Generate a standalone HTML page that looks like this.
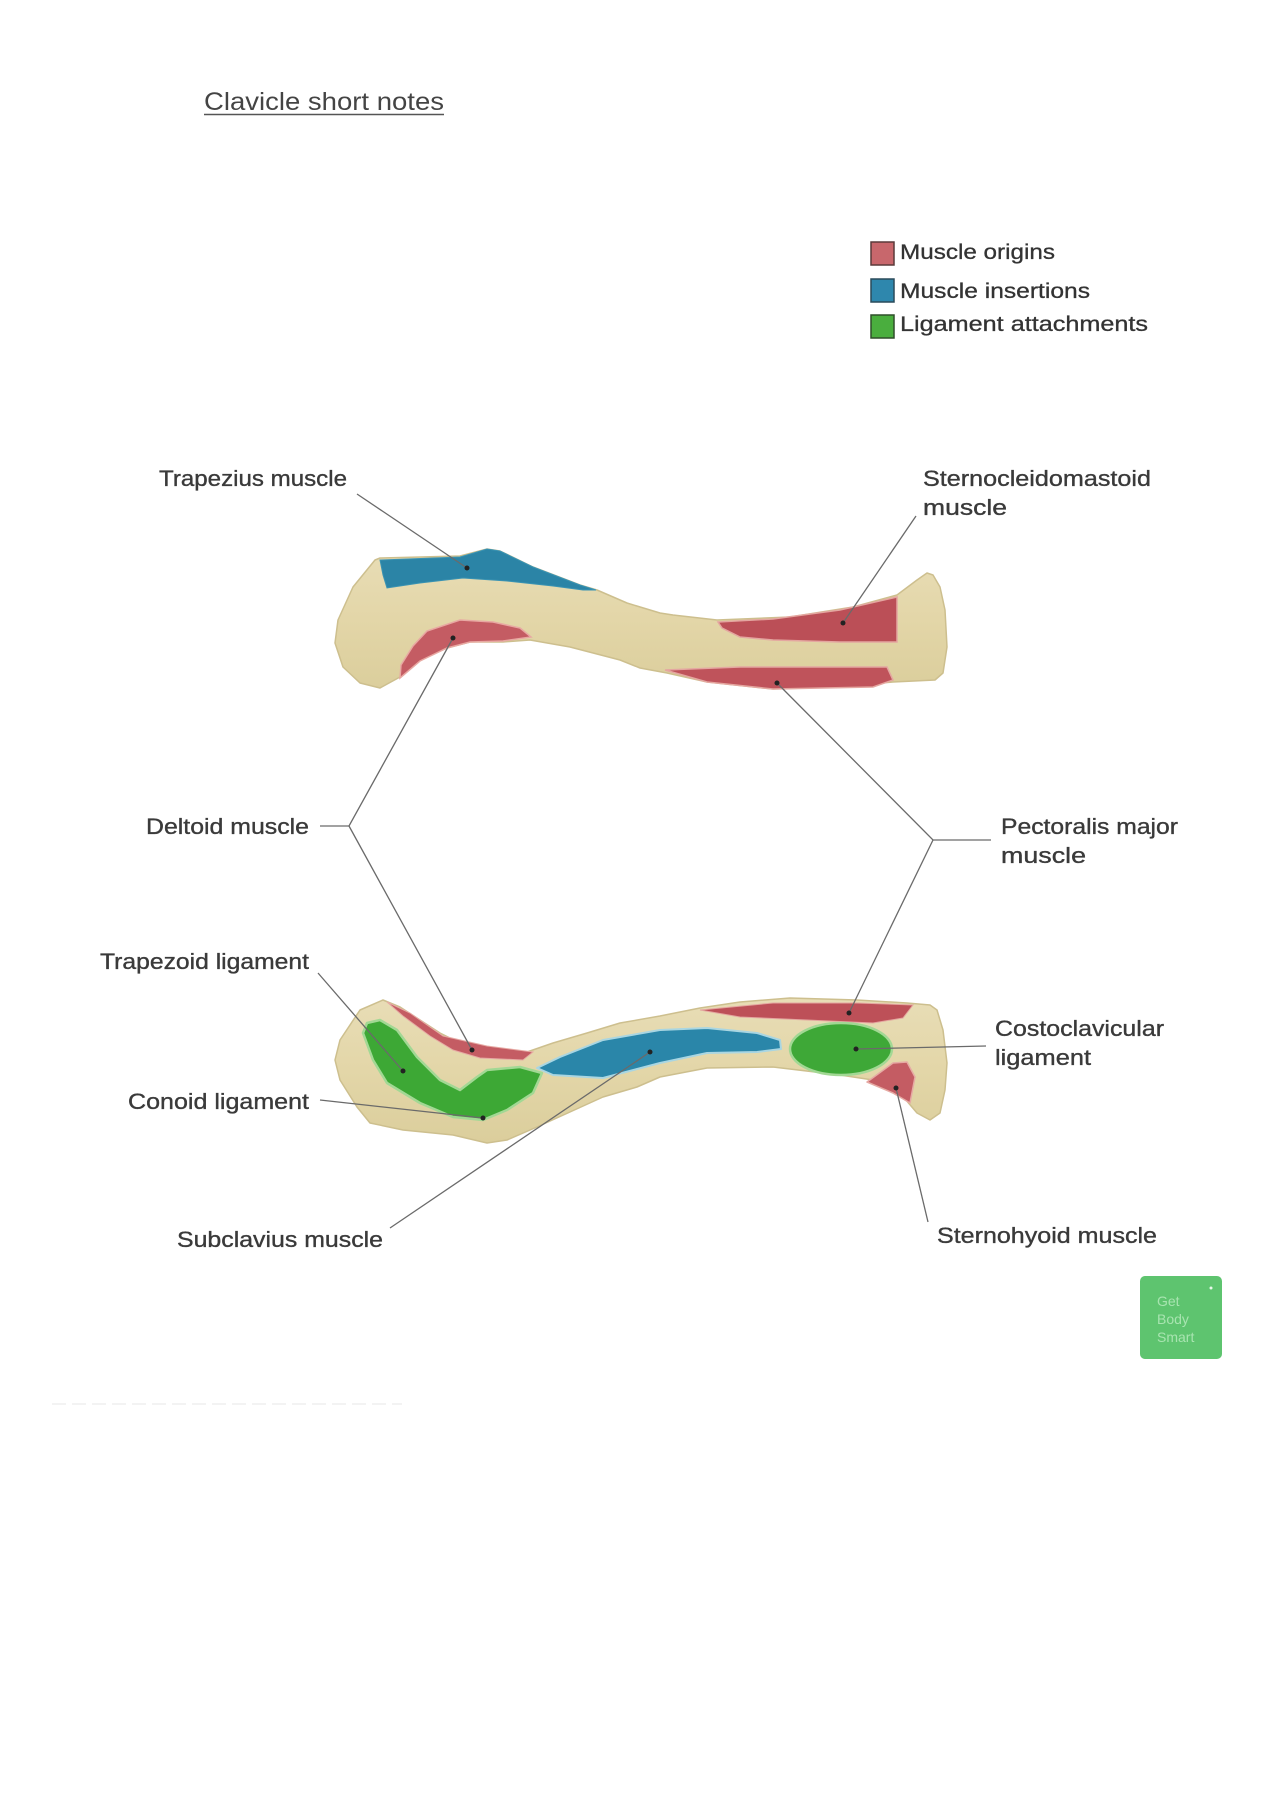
<!DOCTYPE html>
<html>
<head>
<meta charset="utf-8">
<style>
  html,body{margin:0;padding:0;background:#ffffff;}
  body{width:1280px;height:1811px;overflow:hidden;}
  svg{display:block;}
  .lbl{font-family:"Liberation Sans",sans-serif;font-size:22px;fill:#3a3a3a;stroke:#3a3a3a;stroke-width:0.35px;}
  .leg{font-family:"Liberation Sans",sans-serif;font-size:21px;fill:#333;stroke:#333;stroke-width:0.3px;}
  .ln{stroke:#6a6a6a;stroke-width:1.3;fill:none;}
  .dot{fill:#222;}
</style>
</head>
<body>
<svg width="1280" height="1811" viewBox="0 0 1280 1811" xmlns="http://www.w3.org/2000/svg">
  <defs>
    <linearGradient id="boneG" x1="0" y1="0" x2="0" y2="1">
      <stop offset="0" stop-color="#e8ddb6"/>
      <stop offset="0.5" stop-color="#e3d6a8"/>
      <stop offset="1" stop-color="#dbce9c"/>
    </linearGradient>
  </defs>

  <!-- Title -->
  <text x="204" y="110" font-family="Liberation Sans, sans-serif" font-size="25" fill="#444" textLength="240" lengthAdjust="spacingAndGlyphs">Clavicle short notes</text>
  <line x1="204" y1="114.5" x2="444" y2="114.5" stroke="#555" stroke-width="1.6"/>

  <!-- Legend -->
  <rect x="871" y="242" width="23" height="23" fill="#c8676c" stroke="#5a3a3a" stroke-width="1.5"/>
  <rect x="871" y="279" width="23" height="23" fill="#2e87ad" stroke="#2a4a5a" stroke-width="1.5"/>
  <rect x="871" y="315" width="23" height="23" fill="#4aae3e" stroke="#2f4f2a" stroke-width="1.5"/>
  <text class="leg" x="900" y="259" textLength="155" lengthAdjust="spacingAndGlyphs">Muscle origins</text>
  <text class="leg" x="900" y="298" textLength="190" lengthAdjust="spacingAndGlyphs">Muscle insertions</text>
  <text class="leg" x="900" y="331" textLength="248" lengthAdjust="spacingAndGlyphs">Ligament attachments</text>

  <!-- Upper bone -->
  <path d="M375,560 L380,558 L460,556 L487,549 L500,551 L533,567 L580,585 L597,590 L627,603 L660,613 L673,615 L717,620 L790,617 L853,607 L897,595 L917,580 L927,573 L933,575 L940,587 L945,610 L947,647 L943,673 L935,680 L893,682 L840,687 L773,689 L707,682 L667,673 L640,668 L620,660 L570,647 L530,640 L503,642 L470,642 L447,648 L420,660 L400,677 L380,688 L360,683 L343,667 L335,643 L338,620 L353,587 Z"
        fill="url(#boneG)" stroke="#cdbf8e" stroke-width="1.5" stroke-linejoin="round"/>
  <!-- blue trapezius insertion -->
  <path d="M380,560 L460,557 L487,549 L500,551 L533,567 L580,585 L596,590 L583,590 L553,586 L507,581 L463,578 L420,583 L387,588 L383,575 Z"
        fill="#2b84a6" stroke="#3a93b3" stroke-width="1"/>
  <!-- red deltoid origin -->
  <path d="M400,678 L401,665 L413,646 L427,631 L460,620 L493,622 L520,628 L531,637 L503,641 L470,642 L447,648 L420,661 Z"
        fill="#c45c63" stroke="#e8a8a2" stroke-width="1.5"/>
  <!-- red SCM origin -->
  <path d="M718,622 L773,619 L840,610 L897,597 L897,642 L840,642 L773,640 L740,637 L722,628 Z"
        fill="#bb4f57" stroke="#e4a6a0" stroke-width="1.5"/>
  <!-- red pectoralis (upper bone) -->
  <path d="M665,670 L740,667 L887,667 L893,680 L873,687 L773,689 L707,682 Z"
        fill="#bf535b" stroke="#e4a6a0" stroke-width="1.5"/>

  <!-- Lower bone -->
  <path d="M383,1000 L400,1007 L420,1020 L440,1033 L460,1043 L493,1050 L527,1052 L553,1043 L587,1033 L620,1023 L660,1016 L700,1008 L740,1002 L790,998 L857,1000 L907,1003 L930,1005 L937,1010 L943,1030 L947,1063 L945,1090 L940,1113 L930,1120 L917,1113 L900,1093 L873,1080 L840,1075 L773,1067 L707,1068 L660,1077 L637,1087 L603,1097 L570,1112 L537,1127 L507,1140 L487,1143 L453,1135 L403,1130 L370,1123 L357,1107 L340,1080 L335,1060 L340,1040 L360,1010 Z"
        fill="url(#boneG)" stroke="#cdbf8e" stroke-width="1.5" stroke-linejoin="round"/>
  <!-- red thin deltoid band -->
  <path d="M387,1002 L410,1013 L443,1036 L487,1046 L533,1052 L523,1060 L480,1058 L453,1050 L430,1036 L403,1016 Z"
        fill="#c45c63" stroke="#e6aaa4" stroke-width="1"/>
  <!-- green trapezoid/conoid L -->
  <path d="M367,1023 L380,1020 L397,1030 L417,1057 L440,1080 L460,1090 L477,1077 L487,1070 L520,1067 L542,1073 L533,1093 L507,1110 L483,1120 L453,1117 L420,1103 L387,1083 L373,1060 L363,1033 Z"
        fill="#3da835" stroke="#a2d894" stroke-width="2.5" stroke-linejoin="round"/>
  <!-- blue subclavius -->
  <path d="M537,1068 L560,1057 L603,1040 L660,1030 L707,1028 L757,1033 L780,1040 L781,1049 L757,1052 L707,1053 L660,1063 L603,1078 L553,1075 Z"
        fill="#2a86a9" stroke="#a9d6e2" stroke-width="2" stroke-linejoin="round"/>
  <!-- red pectoralis band (lower bone) -->
  <path d="M700,1010 L773,1003 L857,1003 L913,1005 L903,1018 L873,1023 L807,1020 L740,1017 Z"
        fill="#bd5058" stroke="#e4a6a0" stroke-width="1"/>
  <!-- green costoclavicular ellipse -->
  <ellipse cx="841" cy="1049" rx="51" ry="26" fill="#3ea837" stroke="#a2d894" stroke-width="2.5"/>
  <!-- red sternohyoid -->
  <path d="M867,1082 L893,1063 L907,1062 L915,1077 L910,1103 L893,1093 Z"
        fill="#c45c63" stroke="#e6aaa4" stroke-width="1.5" stroke-linejoin="round"/>

  <!-- Leader lines -->
  <line class="ln" x1="357" y1="494" x2="467" y2="568"/>
  <line class="ln" x1="916" y1="516" x2="843" y2="623"/>
  <polyline class="ln" points="320,826 349,826 453,638"/>
  <line class="ln" x1="349" y1="826" x2="472" y2="1050"/>
  <polyline class="ln" points="991,840 933,840 777,683"/>
  <line class="ln" x1="933" y1="840" x2="849" y2="1013"/>
  <line class="ln" x1="318" y1="973" x2="403" y2="1071"/>
  <line class="ln" x1="320" y1="1100" x2="483" y2="1118"/>
  <line class="ln" x1="390" y1="1228" x2="650" y2="1052"/>
  <line class="ln" x1="856" y1="1049" x2="986" y2="1046"/>
  <line class="ln" x1="896" y1="1088" x2="928" y2="1222"/>

  <!-- Dots -->
  <circle class="dot" cx="467" cy="568" r="2.5"/>
  <circle class="dot" cx="453" cy="638" r="2.5"/>
  <circle class="dot" cx="843" cy="623" r="2.5"/>
  <circle class="dot" cx="777" cy="683" r="2.5"/>
  <circle class="dot" cx="472" cy="1050" r="2.5"/>
  <circle class="dot" cx="403" cy="1071" r="2.5"/>
  <circle class="dot" cx="483" cy="1118" r="2.5"/>
  <circle class="dot" cx="650" cy="1052" r="2.5"/>
  <circle class="dot" cx="849" cy="1013" r="2.5"/>
  <circle class="dot" cx="856" cy="1049" r="2.5"/>
  <circle class="dot" cx="896" cy="1088" r="2.5"/>

  <!-- Labels -->
  <text class="lbl" x="159" y="486" textLength="188" lengthAdjust="spacingAndGlyphs">Trapezius muscle</text>
  <text class="lbl" x="923" y="486" textLength="228" lengthAdjust="spacingAndGlyphs">Sternocleidomastoid</text>
  <text class="lbl" x="923" y="515" textLength="84" lengthAdjust="spacingAndGlyphs">muscle</text>
  <text class="lbl" x="146" y="834" textLength="163" lengthAdjust="spacingAndGlyphs">Deltoid muscle</text>
  <text class="lbl" x="1001" y="834" textLength="177" lengthAdjust="spacingAndGlyphs">Pectoralis major</text>
  <text class="lbl" x="1001" y="863" textLength="85" lengthAdjust="spacingAndGlyphs">muscle</text>
  <text class="lbl" x="100" y="969" textLength="209" lengthAdjust="spacingAndGlyphs">Trapezoid ligament</text>
  <text class="lbl" x="995" y="1036" textLength="169" lengthAdjust="spacingAndGlyphs">Costoclavicular</text>
  <text class="lbl" x="995" y="1065" textLength="96" lengthAdjust="spacingAndGlyphs">ligament</text>
  <text class="lbl" x="128" y="1109" textLength="181" lengthAdjust="spacingAndGlyphs">Conoid ligament</text>
  <text class="lbl" x="177" y="1247" textLength="206" lengthAdjust="spacingAndGlyphs">Subclavius muscle</text>
  <text class="lbl" x="937" y="1243" textLength="220" lengthAdjust="spacingAndGlyphs">Sternohyoid muscle</text>

  <!-- Get Body Smart logo -->
  <rect x="1140" y="1276" width="82" height="83" rx="5" fill="#5ec46f"/>
  <circle cx="1211" cy="1288" r="1.5" fill="#e8f8ea"/>
  <g font-family="Liberation Sans, sans-serif" font-size="14" fill="#a8e4b0">
    <text x="1157" y="1306">Get</text>
    <text x="1157" y="1324">Body</text>
    <text x="1157" y="1342">Smart</text>
  </g>

  <!-- faint line -->
  <line x1="52" y1="1404" x2="402" y2="1404" stroke="#efefef" stroke-width="1.5" stroke-dasharray="14 6"/>
</svg>
</body>
</html>
